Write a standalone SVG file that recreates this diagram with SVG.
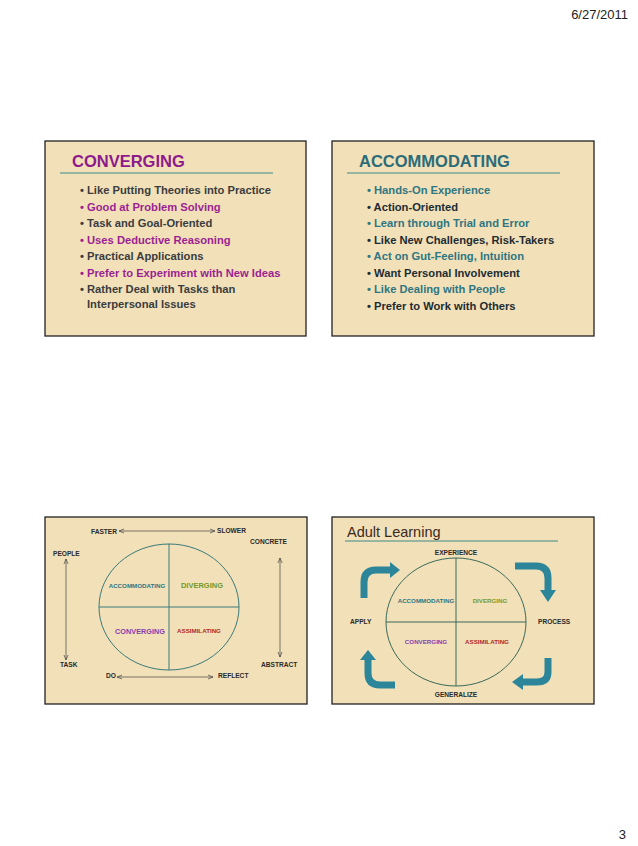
<svg xmlns="http://www.w3.org/2000/svg" width="638" height="846" viewBox="0 0 638 846">
<defs>
<style>
text{font-family:"Liberation Sans",Arial,sans-serif}
.slide{fill:#f1e0b8;stroke:#222;stroke-width:1.3}
.b{font-size:11.2px;font-weight:bold}
.g{fill:#3a3c40}.p{fill:#9c1f92}.t{fill:#2f7682}.d{fill:#1d2c33}
.sm{font-size:6.2px;font-weight:bold}
.lbl{font-size:6.6px;font-weight:bold;fill:#2a2a2a}
.ax{stroke:#444;stroke-width:0.7;fill:none}
.cv{stroke:#2d8599;stroke-width:7;fill:none}
.ah{fill:#2d8599}
</style>
<marker id="a" markerWidth="6" markerHeight="6" refX="5" refY="3" orient="auto-start-reverse" markerUnits="userSpaceOnUse"><path d="M0,1 L5,3 L0,5" fill="none" stroke="#444" stroke-width="0.7"/></marker>
</defs>
<text x="628" y="19" text-anchor="end" font-size="13" fill="#222">6/27/2011</text>
<text x="626" y="839" text-anchor="end" font-size="13" fill="#222">3</text>

<g id="slide-converging">
<rect class="slide" x="45" y="141" width="261" height="195"/>
<text x="72" y="167" font-size="16.5" font-weight="bold" fill="#8e1a8c">CONVERGING</text>
<line x1="60" y1="173" x2="273" y2="173" stroke="#3d8a8a" stroke-width="1"/>
<g class="b">
<text x="80" y="194" class="g">• Like Putting Theories into Practice</text>
<text x="80" y="211" class="p">• Good at Problem Solving</text>
<text x="80" y="227" class="g">• Task and Goal-Oriented</text>
<text x="80" y="244" class="p">• Uses Deductive Reasoning</text>
<text x="80" y="260" class="g">• Practical Applications</text>
<text x="80" y="277" class="p">• Prefer to Experiment with New Ideas</text>
<text x="80" y="293" class="g">• Rather Deal with Tasks than</text>
<text x="87" y="308" class="g">Interpersonal Issues</text>
</g>
</g>

<g id="slide-accommodating">
<rect class="slide" x="332" y="141" width="262" height="195"/>
<text x="359" y="167" font-size="16.5" font-weight="bold" fill="#2b6c78">ACCOMMODATING</text>
<line x1="347" y1="173" x2="560" y2="173" stroke="#3d8a8a" stroke-width="1"/>
<g class="b">
<text x="367" y="194" class="t">• Hands-On Experience</text>
<text x="367" y="211" class="d">• Action-Oriented</text>
<text x="367" y="227" class="t">• Learn through Trial and Error</text>
<text x="367" y="244" class="d">• Like New Challenges, Risk-Takers</text>
<text x="367" y="260" class="t">• Act on Gut-Feeling, Intuition</text>
<text x="367" y="277" class="d">• Want Personal Involvement</text>
<text x="367" y="293" class="t">• Like Dealing with People</text>
<text x="367" y="310" class="d">• Prefer to Work with Others</text>
</g>
</g>

<g id="slide-axes">
<rect class="slide" x="45" y="517" width="262" height="187"/>
<ellipse cx="169" cy="607" rx="70" ry="63" fill="none" stroke="#3a7a7a" stroke-width="1"/>
<line x1="169" y1="544" x2="169" y2="670" stroke="#3a7a7a" stroke-width="1"/>
<line x1="99" y1="607" x2="239" y2="607" stroke="#3a7a7a" stroke-width="1"/>
<text x="137" y="588" class="sm" fill="#2f7682" text-anchor="middle">ACCOMMODATING</text>
<text x="202" y="588" font-size="7.5" font-weight="bold" fill="#6f9a2a" text-anchor="middle">DIVERGING</text>
<text x="140" y="634" font-size="7.3" font-weight="bold" fill="#8a3cb0" text-anchor="middle">CONVERGING</text>
<text x="199" y="633" class="sm" fill="#b02a2a" text-anchor="middle">ASSIMILATING</text>
<text x="91" y="534" class="lbl">FASTER</text>
<text x="217" y="533" class="lbl">SLOWER</text>
<text x="250" y="544" class="lbl">CONCRETE</text>
<text x="53" y="556" class="lbl">PEOPLE</text>
<text x="60" y="667" class="lbl">TASK</text>
<text x="106" y="678" class="lbl">DO</text>
<text x="218" y="678" class="lbl">REFLECT</text>
<text x="261" y="667" class="lbl">ABSTRACT</text>
</g>
<g id="connectors-axes">
<line class="ax" x1="119" y1="531" x2="215" y2="531" marker-start="url(#a)" marker-end="url(#a)"/>
<line class="ax" x1="66" y1="559" x2="66" y2="660" marker-start="url(#a)" marker-end="url(#a)"/>
<line class="ax" x1="280" y1="558" x2="280" y2="657" marker-start="url(#a)" marker-end="url(#a)"/>
<line class="ax" x1="117" y1="677" x2="213" y2="677" marker-start="url(#a)" marker-end="url(#a)"/>
</g>

<g id="slide-adult-learning">
<rect class="slide" x="332" y="517" width="262" height="187"/>
<text x="347" y="537" font-size="14.5" fill="#3a2a1e">Adult Learning</text>
<line x1="345" y1="541" x2="558" y2="541" stroke="#3d8a8a" stroke-width="1"/>
<ellipse cx="456" cy="622" rx="70" ry="64" fill="none" stroke="#3a6a5a" stroke-width="1"/>
<line x1="456" y1="558" x2="456" y2="686" stroke="#3a6a5a" stroke-width="1"/>
<line x1="386" y1="622" x2="526" y2="622" stroke="#3a6a5a" stroke-width="1"/>
<text x="426" y="603" class="sm" fill="#2f7682" text-anchor="middle">ACCOMMODATING</text>
<text x="490" y="603" class="sm" fill="#7a9a2a" text-anchor="middle">DIVERGING</text>
<text x="426" y="644" class="sm" fill="#8a3cb0" text-anchor="middle">CONVERGING</text>
<text x="487" y="644" class="sm" fill="#b02a2a" text-anchor="middle">ASSIMILATING</text>
<text x="456" y="555" class="lbl" text-anchor="middle">EXPERIENCE</text>
<text x="350" y="624" class="lbl">APPLY</text>
<text x="538" y="624" class="lbl">PROCESS</text>
<text x="456" y="697" class="lbl" text-anchor="middle">GENERALIZE</text>
</g>
<g id="connectors-cycle">
<path class="cv" d="M364,598 V582 Q364,570 376,570 H391"/>
<path class="ah" d="M390,562 L400,570 L390,578 Z"/>
<path class="cv" d="M515,566 H536 Q548,566 548,578 V591"/>
<path class="ah" d="M540,590 L556,590 L548,602 Z"/>
<path class="cv" d="M548,658 V672 Q548,682 537,682 H522"/>
<path class="ah" d="M523,674 L512,682 L523,690 Z"/>
<path class="cv" d="M395,685 H380 Q368,685 368,673 V659"/>
<path class="ah" d="M360,660 L368,650 L376,660 Z"/>
</g>
</svg>
